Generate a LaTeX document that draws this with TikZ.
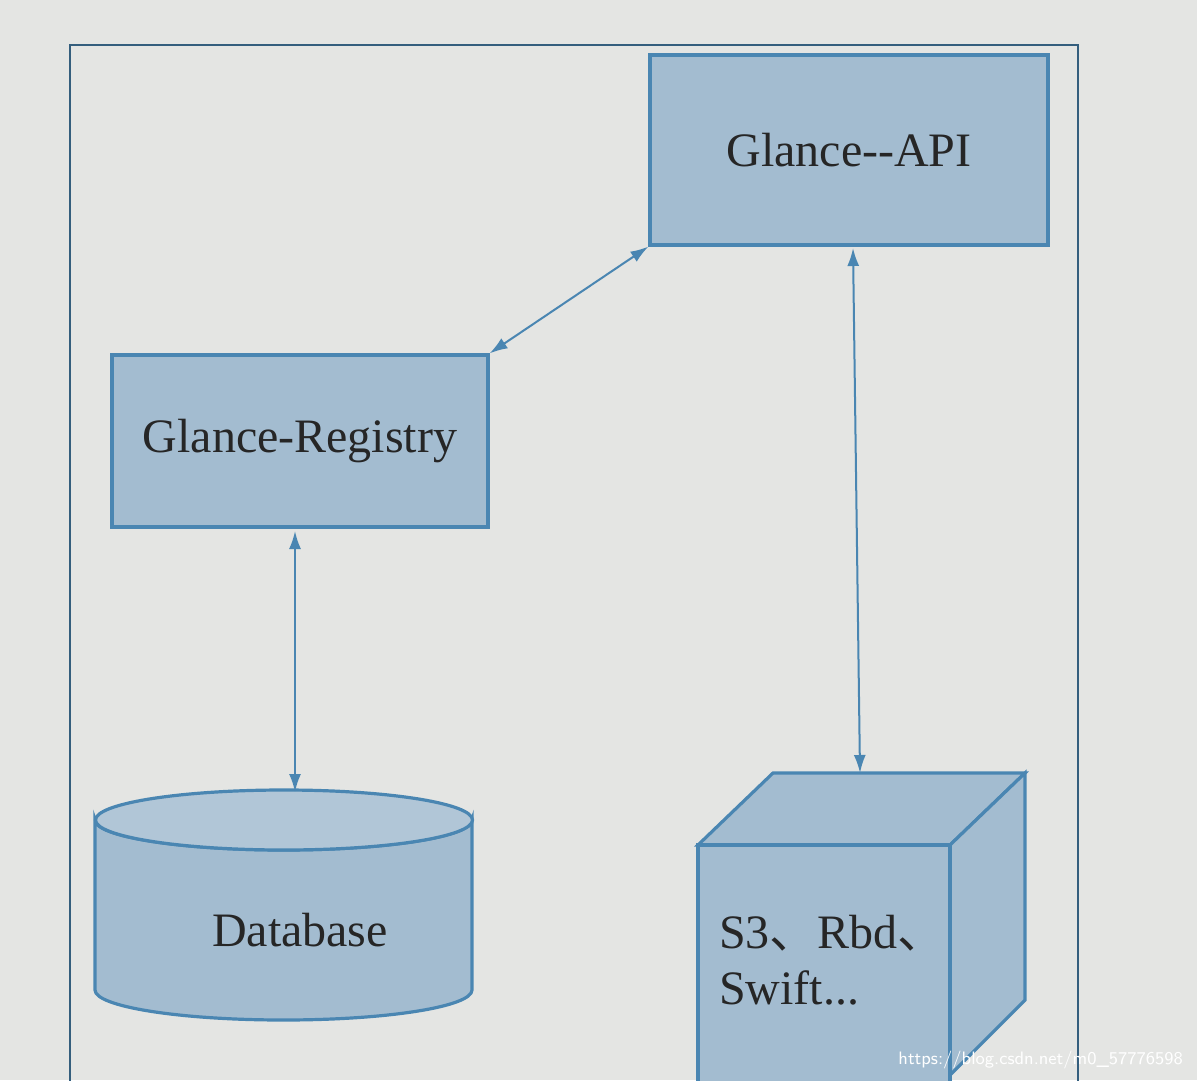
\documentclass[tikz,border=0pt]{standalone}
\usepackage{fontspec}
\setmainfont{Liberation Serif}
\newfontfamily\cjk{Noto Sans CJK SC}
\begin{document}
\begin{tikzpicture}[x=0.5pt,y=-0.5pt,
  box/.style={draw=edgec,line width=1.6pt,fill=boxc},
  lbl/.style={font=\fontsize{24}{28}\selectfont,text=black!85},
  conn/.style={draw=edgec,line width=1pt,{Latex[length=9pt,width=6pt]}-{Latex[length=9pt,width=6pt]}}]
\usetikzlibrary{arrows.meta}
\definecolor{bg}{HTML}{E4E5E3}
\definecolor{boxc}{HTML}{A3BCD0}
\definecolor{edgec}{HTML}{4A86B2}
\useasboundingbox (0,0) rectangle (1197,1080);
\fill[bg] (0,0) rectangle (1197,1080);
\begin{scope}
\clip (0,0) rectangle (1197,1080);
\draw[edgec!70!black,line width=1.4pt] (70,45) rectangle (1078,1095);
\end{scope}
% boxes
\node[box,minimum width=199pt,minimum height=95pt,inner sep=0pt] (api) at (849,150) {};
\node[lbl] at (api) {Glance{-}{-}API};
\node[box,minimum width=188pt,minimum height=86pt,inner sep=0pt] (reg) at (300,441) {};
\node[lbl] at (reg) {Glance-Registry};
% database cylinder
\coordinate (dbtop) at (295,792);
\filldraw[box] (95,820) arc[start angle=180,end angle=360,x radius=188.5,y radius=-30] -- (472,990) arc[start angle=0,end angle=-180,x radius=188.5,y radius=-30] -- cycle;
\draw[edgec,line width=1.6pt,fill=boxc!85!white] (284,820) ellipse[x radius=188.5,y radius=30];
\node[lbl] (db) at (300,930) {Database};
% cube
\coordinate (ctop) at (860,773);
\filldraw[box] (698,845) -- (773,773) -- (1025,773) -- (950,845) -- cycle;
\filldraw[box] (950,845) -- (1025,773) -- (1025,1000) -- (950,1075) -- cycle;
\filldraw[box] (698,845) rectangle (950,1085);
\node[lbl,align=left,anchor=west] (store) at (712,960) {S3{\cjk 、}Rbd{\cjk 、}\\Swift...};
% connectors
\draw[conn] (reg.north east) -- (api.south west);
\draw[conn] (295,531) -- (dbtop);
\draw[conn] (853,248) -- (ctop);
\node[font=\fontsize{9}{10}\selectfont\sffamily,text=white,anchor=east] at (1190,1060) {https://blog.csdn.net/m0\_57776598};
\end{tikzpicture}
\end{document}
